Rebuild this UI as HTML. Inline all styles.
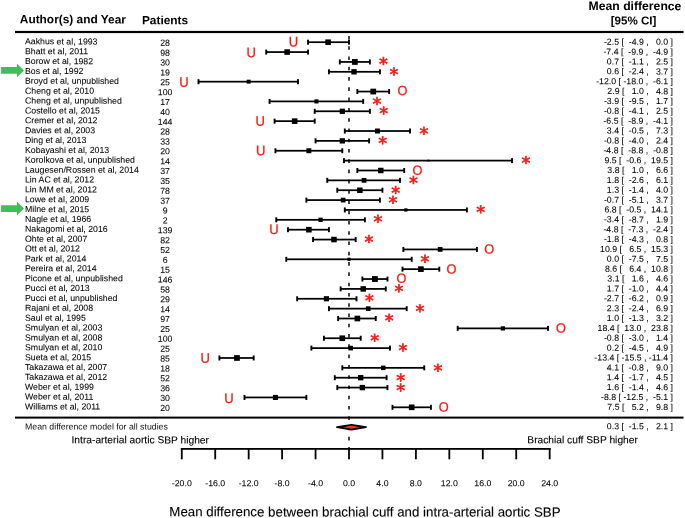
<!DOCTYPE html><html><head><meta charset="utf-8"><title>Forest plot</title><style>
html,body{margin:0;padding:0;background:#fff;width:685px;height:518px;overflow:hidden}
svg{display:block;font-family:"Liberation Sans",Arial,sans-serif}
text{white-space:pre;text-rendering:geometricPrecision}
.s{font-size:8.76px;fill:#000;stroke:#000;stroke-width:0.06px}
.h{font-size:11.9px;font-weight:bold;fill:#000}
.m{fill:#f41a12;stroke:#f41a12;stroke-width:0.30px;text-anchor:middle}
.ast{font-family:"DejaVu Sans",sans-serif;stroke-width:0.65px}
</style></head><body>
<svg width="685" height="518" viewBox="0 0 685 518">
<text transform="translate(19.8 23.3) skewY(0.05)" class="h">Author(s) and Year</text>
<text transform="translate(165 24.3) skewY(0.05)" class="h" text-anchor="middle">Patients</text>
<text transform="translate(635 10.1) skewY(0.05)" class="h" text-anchor="middle" style="font-size:12.2px">Mean difference</text>
<text transform="translate(633.5 24.5) skewY(0.05)" class="h" text-anchor="middle" style="font-size:11.6px">[95% CI]</text>
<rect x="15" y="30.9" width="668.5" height="2.2" fill="#000"/>
<rect x="15" y="416.6" width="668.5" height="2" fill="#000"/>
<line x1="349.00" y1="35.92" x2="349.00" y2="449" stroke="#000" stroke-width="1.45" stroke-dasharray="3.6 6.68"/>
<text transform="translate(25.00 44.35) skewY(0.05)" class="s">Aakhus et al, 1993</text>
<text transform="translate(165.10 45.80) skewY(0.05)" class="s" text-anchor="middle">28</text>
<text transform="translate(673.00 44.80) skewY(0.05)" class="s" text-anchor="end"> -2.5 [  -4.9 ,   0.0 ]</text>
<rect x="308.03" y="41.33" width="40.97" height="1.75"/>
<rect x="307.08" y="39.70" width="1.90" height="5.00"/>
<rect x="348.05" y="39.70" width="1.90" height="5.00"/>
<rect x="325.31" y="39.41" width="5.58" height="5.58"/>
<text class="m" transform="translate(293.43 41.60) scale(0.930 1) skewY(0.05)" y="4.97" style="font-size:14.00px">U</text>
<text transform="translate(25.00 54.22) skewY(0.05)" class="s">Bhatt et al, 2011</text>
<text transform="translate(165.10 55.67) skewY(0.05)" class="s" text-anchor="middle">98</text>
<text transform="translate(673.00 54.67) skewY(0.05)" class="s" text-anchor="end"> -7.4 [  -9.9 ,  -4.9 ]</text>
<rect x="266.23" y="51.19" width="41.81" height="1.75"/>
<rect x="265.28" y="49.57" width="1.90" height="5.00"/>
<rect x="307.08" y="49.57" width="1.90" height="5.00"/>
<rect x="284.35" y="49.29" width="5.56" height="5.56"/>
<text class="m" transform="translate(251.13 52.17) scale(0.930 1) skewY(0.05)" y="4.97" style="font-size:14.00px">U</text>
<text transform="translate(25.00 64.09) skewY(0.05)" class="s">Borow et al, 1982</text>
<text transform="translate(165.10 65.54) skewY(0.05)" class="s" text-anchor="middle">30</text>
<text transform="translate(673.00 64.54) skewY(0.05)" class="s" text-anchor="end">  0.7 [  -1.1 ,   2.5 ]</text>
<rect x="339.80" y="61.06" width="30.10" height="1.75"/>
<rect x="338.85" y="59.44" width="1.90" height="5.00"/>
<rect x="368.95" y="59.44" width="1.90" height="5.00"/>
<rect x="351.96" y="59.05" width="5.78" height="5.78"/>
<text class="m ast" transform="translate(383.50 60.94) scale(1.040 1) skewY(0.05)" y="8.71" style="font-size:17.00px">*</text>
<text transform="translate(25.00 73.95) skewY(0.05)" class="s">Bos et al, 1992</text>
<text transform="translate(165.10 75.40) skewY(0.05)" class="s" text-anchor="middle">19</text>
<text transform="translate(673.00 74.40) skewY(0.05)" class="s" text-anchor="end">  0.6 [  -2.4 ,   3.7 ]</text>
<rect x="328.93" y="70.93" width="51.00" height="1.75"/>
<rect x="327.98" y="69.30" width="1.90" height="5.00"/>
<rect x="378.99" y="69.30" width="1.90" height="5.00"/>
<rect x="351.34" y="69.13" width="5.35" height="5.35"/>
<text class="m ast" transform="translate(393.94 71.50) scale(1.040 1) skewY(0.05)" y="8.71" style="font-size:17.00px">*</text>
<text transform="translate(25.00 83.82) skewY(0.05)" class="s">Broyd et al, unpublished</text>
<text transform="translate(165.10 85.27) skewY(0.05)" class="s" text-anchor="middle">25</text>
<text transform="translate(673.00 84.27) skewY(0.05)" class="s" text-anchor="end">-12.0 [ -18.0 ,  -6.1 ]</text>
<rect x="198.50" y="80.80" width="99.50" height="1.75"/>
<rect x="197.55" y="79.17" width="1.90" height="5.00"/>
<rect x="297.05" y="79.17" width="1.90" height="5.00"/>
<rect x="246.70" y="79.70" width="3.94" height="3.94"/>
<text class="m" transform="translate(183.85 81.87) scale(0.930 1) skewY(0.05)" y="4.97" style="font-size:14.00px">U</text>
<text transform="translate(25.00 93.69) skewY(0.05)" class="s">Cheng et al, 2010</text>
<text transform="translate(165.10 95.14) skewY(0.05)" class="s" text-anchor="middle">100</text>
<text transform="translate(673.00 94.14) skewY(0.05)" class="s" text-anchor="end">  2.9 [   1.0 ,   4.8 ]</text>
<rect x="357.36" y="90.67" width="31.77" height="1.75"/>
<rect x="356.41" y="89.04" width="1.90" height="5.00"/>
<rect x="388.18" y="89.04" width="1.90" height="5.00"/>
<rect x="370.37" y="88.67" width="5.75" height="5.75"/>
<text class="m" transform="translate(402.53 90.54) scale(0.970 1) skewY(0.05)" y="4.55" style="font-size:13.20px">O</text>
<text transform="translate(25.00 103.56) skewY(0.05)" class="s">Cheng et al, unpublished</text>
<text transform="translate(165.10 105.01) skewY(0.05)" class="s" text-anchor="middle">17</text>
<text transform="translate(673.00 104.01) skewY(0.05)" class="s" text-anchor="end"> -3.9 [  -9.5 ,   1.7 ]</text>
<rect x="269.57" y="100.53" width="93.64" height="1.75"/>
<rect x="268.62" y="98.91" width="1.90" height="5.00"/>
<rect x="362.26" y="98.91" width="1.90" height="5.00"/>
<rect x="314.33" y="99.35" width="4.13" height="4.13"/>
<text class="m ast" transform="translate(377.01 100.91) scale(1.040 1) skewY(0.05)" y="8.71" style="font-size:17.00px">*</text>
<text transform="translate(25.00 113.43) skewY(0.05)" class="s">Costello et al, 2015</text>
<text transform="translate(165.10 114.88) skewY(0.05)" class="s" text-anchor="middle">40</text>
<text transform="translate(673.00 113.88) skewY(0.05)" class="s" text-anchor="end"> -0.8 [  -4.1 ,   2.5 ]</text>
<rect x="314.72" y="110.40" width="55.18" height="1.75"/>
<rect x="313.77" y="108.78" width="1.90" height="5.00"/>
<rect x="368.95" y="108.78" width="1.90" height="5.00"/>
<rect x="339.69" y="108.65" width="5.25" height="5.25"/>
<text class="m ast" transform="translate(383.60 110.58) scale(1.040 1) skewY(0.05)" y="8.71" style="font-size:17.00px">*</text>
<text transform="translate(25.00 123.29) skewY(0.05)" class="s">Cremer et al, 2012</text>
<text transform="translate(165.10 124.74) skewY(0.05)" class="s" text-anchor="middle">144</text>
<text transform="translate(673.00 123.74) skewY(0.05)" class="s" text-anchor="end"> -6.5 [  -8.9 ,  -4.1 ]</text>
<rect x="274.59" y="120.27" width="40.13" height="1.75"/>
<rect x="273.64" y="118.64" width="1.90" height="5.00"/>
<rect x="313.77" y="118.64" width="1.90" height="5.00"/>
<rect x="291.86" y="118.35" width="5.60" height="5.60"/>
<text class="m" transform="translate(260.19 120.79) scale(0.930 1) skewY(0.05)" y="4.97" style="font-size:14.00px">U</text>
<text transform="translate(25.00 133.16) skewY(0.05)" class="s">Davies et al, 2003</text>
<text transform="translate(165.10 134.61) skewY(0.05)" class="s" text-anchor="middle">28</text>
<text transform="translate(673.00 133.61) skewY(0.05)" class="s" text-anchor="end">  3.4 [  -0.5 ,   7.3 ]</text>
<rect x="344.82" y="130.14" width="65.22" height="1.75"/>
<rect x="343.87" y="128.51" width="1.90" height="5.00"/>
<rect x="409.09" y="128.51" width="1.90" height="5.00"/>
<rect x="374.94" y="128.52" width="4.98" height="4.98"/>
<text class="m ast" transform="translate(423.89 130.71) scale(1.040 1) skewY(0.05)" y="8.71" style="font-size:17.00px">*</text>
<text transform="translate(25.00 143.03) skewY(0.05)" class="s">Ding et al, 2013</text>
<text transform="translate(165.10 144.48) skewY(0.05)" class="s" text-anchor="middle">33</text>
<text transform="translate(673.00 143.48) skewY(0.05)" class="s" text-anchor="end"> -0.8 [  -4.0 ,   2.4 ]</text>
<rect x="315.56" y="140.00" width="53.51" height="1.75"/>
<rect x="314.61" y="138.38" width="1.90" height="5.00"/>
<rect x="368.12" y="138.38" width="1.90" height="5.00"/>
<rect x="339.67" y="138.23" width="5.29" height="5.29"/>
<text class="m ast" transform="translate(382.77 140.18) scale(1.040 1) skewY(0.05)" y="8.71" style="font-size:17.00px">*</text>
<text transform="translate(25.00 152.90) skewY(0.05)" class="s">Kobayashi et al, 2013</text>
<text transform="translate(165.10 154.35) skewY(0.05)" class="s" text-anchor="middle">20</text>
<text transform="translate(673.00 153.35) skewY(0.05)" class="s" text-anchor="end"> -4.8 [  -8.8 ,  -0.8 ]</text>
<rect x="275.42" y="149.87" width="66.89" height="1.75"/>
<rect x="274.47" y="148.25" width="1.90" height="5.00"/>
<rect x="341.36" y="148.25" width="1.90" height="5.00"/>
<rect x="306.40" y="148.28" width="4.93" height="4.93"/>
<text class="m" transform="translate(260.67 150.20) scale(0.930 1) skewY(0.05)" y="4.97" style="font-size:14.00px">U</text>
<text transform="translate(25.00 162.77) skewY(0.05)" class="s">Korolkova et al, unpublished</text>
<text transform="translate(165.10 164.22) skewY(0.05)" class="s" text-anchor="middle">14</text>
<text transform="translate(673.00 163.22) skewY(0.05)" class="s" text-anchor="end">  9.5 [  -0.6 ,  19.5 ]</text>
<rect x="343.98" y="159.74" width="168.06" height="1.75"/>
<rect x="343.03" y="158.12" width="1.90" height="5.00"/>
<rect x="511.09" y="158.12" width="1.90" height="5.00"/>
<rect x="427.45" y="159.64" width="1.95" height="1.95"/>
<text class="m ast" transform="translate(526.04 159.92) scale(1.040 1) skewY(0.05)" y="8.71" style="font-size:17.00px">*</text>
<text transform="translate(25.00 172.63) skewY(0.05)" class="s">Laugesen/Rossen et al, 2014</text>
<text transform="translate(165.10 174.08) skewY(0.05)" class="s" text-anchor="middle">37</text>
<text transform="translate(673.00 173.08) skewY(0.05)" class="s" text-anchor="end">  3.8 [   1.0 ,   6.6 ]</text>
<rect x="357.36" y="169.61" width="46.82" height="1.75"/>
<rect x="356.41" y="167.98" width="1.90" height="5.00"/>
<rect x="403.23" y="167.98" width="1.90" height="5.00"/>
<rect x="378.05" y="167.76" width="5.45" height="5.45"/>
<text class="m" transform="translate(417.58 170.28) scale(0.970 1) skewY(0.05)" y="4.55" style="font-size:13.20px">O</text>
<text transform="translate(25.00 182.50) skewY(0.05)" class="s">Lin AC et al, 2012</text>
<text transform="translate(165.10 183.95) skewY(0.05)" class="s" text-anchor="middle">35</text>
<text transform="translate(673.00 182.95) skewY(0.05)" class="s" text-anchor="end">  1.8 [  -2.6 ,   6.1 ]</text>
<rect x="327.26" y="179.48" width="72.74" height="1.75"/>
<rect x="326.31" y="177.85" width="1.90" height="5.00"/>
<rect x="399.05" y="177.85" width="1.90" height="5.00"/>
<rect x="361.67" y="177.97" width="4.77" height="4.77"/>
<text class="m ast" transform="translate(413.50 180.00) scale(1.040 1) skewY(0.05)" y="8.71" style="font-size:17.00px">*</text>
<text transform="translate(25.00 192.37) skewY(0.05)" class="s">Lin MM et al, 2012</text>
<text transform="translate(165.10 193.82) skewY(0.05)" class="s" text-anchor="middle">78</text>
<text transform="translate(673.00 192.82) skewY(0.05)" class="s" text-anchor="end">  1.3 [  -1.4 ,   4.0 ]</text>
<rect x="337.29" y="189.35" width="45.15" height="1.75"/>
<rect x="336.34" y="187.72" width="1.90" height="5.00"/>
<rect x="381.49" y="187.72" width="1.90" height="5.00"/>
<rect x="357.12" y="187.48" width="5.49" height="5.49"/>
<text class="m ast" transform="translate(395.64 190.12) scale(1.040 1) skewY(0.05)" y="8.71" style="font-size:17.00px">*</text>
<text transform="translate(25.00 202.24) skewY(0.05)" class="s">Lowe et al, 2009</text>
<text transform="translate(165.10 203.69) skewY(0.05)" class="s" text-anchor="middle">37</text>
<text transform="translate(673.00 202.69) skewY(0.05)" class="s" text-anchor="end"> -0.7 [  -5.1 ,   3.7 ]</text>
<rect x="306.36" y="199.21" width="73.58" height="1.75"/>
<rect x="305.41" y="197.59" width="1.90" height="5.00"/>
<rect x="378.99" y="197.59" width="1.90" height="5.00"/>
<rect x="340.78" y="197.72" width="4.74" height="4.74"/>
<text class="m ast" transform="translate(393.04 199.79) scale(1.040 1) skewY(0.05)" y="8.71" style="font-size:17.00px">*</text>
<text transform="translate(25.00 212.11) skewY(0.05)" class="s">Milne et al, 2015</text>
<text transform="translate(165.10 213.56) skewY(0.05)" class="s" text-anchor="middle">9</text>
<text transform="translate(673.00 212.56) skewY(0.05)" class="s" text-anchor="end">  6.8 [  -0.5 ,  14.1 ]</text>
<rect x="344.82" y="209.08" width="122.07" height="1.75"/>
<rect x="343.87" y="207.46" width="1.90" height="5.00"/>
<rect x="465.94" y="207.46" width="1.90" height="5.00"/>
<rect x="404.24" y="208.34" width="3.24" height="3.24"/>
<text class="m ast" transform="translate(480.69 209.40) scale(1.040 1) skewY(0.05)" y="8.71" style="font-size:17.00px">*</text>
<text transform="translate(25.00 221.97) skewY(0.05)" class="s">Nagle et al, 1966</text>
<text transform="translate(165.10 223.42) skewY(0.05)" class="s" text-anchor="middle">2</text>
<text transform="translate(673.00 222.42) skewY(0.05)" class="s" text-anchor="end"> -3.4 [  -8.7 ,   1.9 ]</text>
<rect x="276.26" y="218.95" width="88.63" height="1.75"/>
<rect x="275.31" y="217.32" width="1.90" height="5.00"/>
<rect x="363.94" y="217.32" width="1.90" height="5.00"/>
<rect x="318.43" y="217.68" width="4.28" height="4.28"/>
<text class="m ast" transform="translate(377.99 218.82) scale(1.040 1) skewY(0.05)" y="8.71" style="font-size:17.00px">*</text>
<text transform="translate(25.00 231.84) skewY(0.05)" class="s">Nakagomi et al, 2016</text>
<text transform="translate(165.10 233.29) skewY(0.05)" class="s" text-anchor="middle">139</text>
<text transform="translate(673.00 232.29) skewY(0.05)" class="s" text-anchor="end"> -4.8 [  -7.3 ,  -2.4 ]</text>
<rect x="287.96" y="228.82" width="40.97" height="1.75"/>
<rect x="287.01" y="227.19" width="1.90" height="5.00"/>
<rect x="327.98" y="227.19" width="1.90" height="5.00"/>
<rect x="306.08" y="226.90" width="5.58" height="5.58"/>
<text class="m" transform="translate(273.96 229.09) scale(0.930 1) skewY(0.05)" y="4.97" style="font-size:14.00px">U</text>
<text transform="translate(25.00 241.71) skewY(0.05)" class="s">Ohte et al, 2007</text>
<text transform="translate(165.10 243.16) skewY(0.05)" class="s" text-anchor="middle">82</text>
<text transform="translate(673.00 242.16) skewY(0.05)" class="s" text-anchor="end"> -1.8 [  -4.3 ,   0.8 ]</text>
<rect x="313.05" y="238.69" width="42.64" height="1.75"/>
<rect x="312.10" y="237.06" width="1.90" height="5.00"/>
<rect x="354.74" y="237.06" width="1.90" height="5.00"/>
<rect x="331.18" y="236.79" width="5.54" height="5.54"/>
<text class="m ast" transform="translate(368.99 239.00) scale(1.040 1) skewY(0.05)" y="8.71" style="font-size:17.00px">*</text>
<text transform="translate(25.00 251.58) skewY(0.05)" class="s">Ott et al, 2012</text>
<text transform="translate(165.10 253.03) skewY(0.05)" class="s" text-anchor="middle">52</text>
<text transform="translate(673.00 252.03) skewY(0.05)" class="s" text-anchor="end"> 10.9 [   6.5 ,  15.3 ]</text>
<rect x="403.35" y="248.55" width="73.58" height="1.75"/>
<rect x="402.40" y="246.93" width="1.90" height="5.00"/>
<rect x="475.97" y="246.93" width="1.90" height="5.00"/>
<rect x="437.76" y="247.06" width="4.74" height="4.74"/>
<text class="m" transform="translate(489.32 249.03) scale(0.970 1) skewY(0.05)" y="4.55" style="font-size:13.20px">O</text>
<text transform="translate(25.00 261.45) skewY(0.05)" class="s">Park et al, 2014</text>
<text transform="translate(165.10 262.90) skewY(0.05)" class="s" text-anchor="middle">6</text>
<text transform="translate(673.00 261.90) skewY(0.05)" class="s" text-anchor="end">  0.0 [  -7.5 ,   7.5 ]</text>
<rect x="286.29" y="258.42" width="125.41" height="1.75"/>
<rect x="285.34" y="256.80" width="1.90" height="5.00"/>
<rect x="410.76" y="256.80" width="1.90" height="5.00"/>
<rect x="347.43" y="257.73" width="3.14" height="3.14"/>
<text class="m ast" transform="translate(425.01 258.80) scale(1.040 1) skewY(0.05)" y="8.71" style="font-size:17.00px">*</text>
<text transform="translate(25.00 271.31) skewY(0.05)" class="s">Pereira et al, 2014</text>
<text transform="translate(165.10 272.76) skewY(0.05)" class="s" text-anchor="middle">15</text>
<text transform="translate(673.00 271.76) skewY(0.05)" class="s" text-anchor="end">  8.6 [   6.4 ,  10.8 ]</text>
<rect x="402.51" y="268.29" width="36.79" height="1.75"/>
<rect x="401.56" y="266.66" width="1.90" height="5.00"/>
<rect x="438.35" y="266.66" width="1.90" height="5.00"/>
<rect x="418.07" y="266.33" width="5.66" height="5.66"/>
<text class="m" transform="translate(451.40 268.96) scale(0.970 1) skewY(0.05)" y="4.55" style="font-size:13.20px">O</text>
<text transform="translate(25.00 281.18) skewY(0.05)" class="s">Picone et al, unpublished</text>
<text transform="translate(165.10 282.63) skewY(0.05)" class="s" text-anchor="middle">146</text>
<text transform="translate(673.00 281.63) skewY(0.05)" class="s" text-anchor="end">  3.1 [   1.6 ,   4.6 ]</text>
<rect x="362.38" y="278.16" width="25.08" height="1.75"/>
<rect x="361.43" y="276.53" width="1.90" height="5.00"/>
<rect x="386.51" y="276.53" width="1.90" height="5.00"/>
<rect x="371.99" y="276.11" width="5.85" height="5.85"/>
<text class="m" transform="translate(401.46 278.23) scale(0.970 1) skewY(0.05)" y="4.55" style="font-size:13.20px">O</text>
<text transform="translate(25.00 291.05) skewY(0.05)" class="s">Pucci et al, 2013</text>
<text transform="translate(165.10 292.50) skewY(0.05)" class="s" text-anchor="middle">58</text>
<text transform="translate(673.00 291.50) skewY(0.05)" class="s" text-anchor="end">  1.7 [  -1.0 ,   4.4 ]</text>
<rect x="340.64" y="288.03" width="45.15" height="1.75"/>
<rect x="339.69" y="286.40" width="1.90" height="5.00"/>
<rect x="384.84" y="286.40" width="1.90" height="5.00"/>
<rect x="360.47" y="286.16" width="5.49" height="5.49"/>
<text class="m ast" transform="translate(398.99 288.40) scale(1.040 1) skewY(0.05)" y="8.71" style="font-size:17.00px">*</text>
<text transform="translate(25.00 300.92) skewY(0.05)" class="s">Pucci et al, unpublished</text>
<text transform="translate(165.10 302.37) skewY(0.05)" class="s" text-anchor="middle">29</text>
<text transform="translate(673.00 301.37) skewY(0.05)" class="s" text-anchor="end"> -2.7 [  -6.2 ,   0.9 ]</text>
<rect x="297.16" y="297.89" width="59.36" height="1.75"/>
<rect x="296.21" y="296.27" width="1.90" height="5.00"/>
<rect x="355.57" y="296.27" width="1.90" height="5.00"/>
<rect x="323.85" y="296.20" width="5.14" height="5.14"/>
<text class="m ast" transform="translate(369.32 297.87) scale(1.040 1) skewY(0.05)" y="8.71" style="font-size:17.00px">*</text>
<text transform="translate(25.00 310.79) skewY(0.05)" class="s">Rajani et al, 2008</text>
<text transform="translate(165.10 312.24) skewY(0.05)" class="s" text-anchor="middle">14</text>
<text transform="translate(673.00 311.24) skewY(0.05)" class="s" text-anchor="end">  2.3 [  -2.4 ,   6.9 ]</text>
<rect x="328.93" y="307.76" width="77.76" height="1.75"/>
<rect x="327.98" y="306.14" width="1.90" height="5.00"/>
<rect x="405.74" y="306.14" width="1.90" height="5.00"/>
<rect x="365.92" y="306.33" width="4.62" height="4.62"/>
<text class="m ast" transform="translate(419.99 308.24) scale(1.040 1) skewY(0.05)" y="8.71" style="font-size:17.00px">*</text>
<text transform="translate(25.00 320.65) skewY(0.05)" class="s">Saul et al, 1995</text>
<text transform="translate(165.10 322.10) skewY(0.05)" class="s" text-anchor="middle">97</text>
<text transform="translate(673.00 321.10) skewY(0.05)" class="s" text-anchor="end">  1.0 [  -1.3 ,   3.2 ]</text>
<rect x="338.13" y="317.63" width="37.62" height="1.75"/>
<rect x="337.18" y="316.00" width="1.90" height="5.00"/>
<rect x="374.81" y="316.00" width="1.90" height="5.00"/>
<rect x="354.54" y="315.68" width="5.64" height="5.64"/>
<text class="m ast" transform="translate(389.06 317.70) scale(1.040 1) skewY(0.05)" y="8.71" style="font-size:17.00px">*</text>
<text transform="translate(25.00 330.52) skewY(0.05)" class="s">Smulyan et al, 2003</text>
<text transform="translate(165.10 331.97) skewY(0.05)" class="s" text-anchor="middle">25</text>
<text transform="translate(673.00 330.97) skewY(0.05)" class="s" text-anchor="end"> 18.4 [  13.0 ,  23.8 ]</text>
<rect x="457.69" y="327.50" width="90.30" height="1.75"/>
<rect x="456.74" y="325.87" width="1.90" height="5.00"/>
<rect x="547.04" y="325.87" width="1.90" height="5.00"/>
<rect x="500.73" y="326.26" width="4.23" height="4.23"/>
<text class="m" transform="translate(561.09 327.97) scale(0.970 1) skewY(0.05)" y="4.55" style="font-size:13.20px">O</text>
<text transform="translate(25.00 340.39) skewY(0.05)" class="s">Smulyan et al, 2008</text>
<text transform="translate(165.10 341.84) skewY(0.05)" class="s" text-anchor="middle">100</text>
<text transform="translate(673.00 340.84) skewY(0.05)" class="s" text-anchor="end"> -0.8 [  -3.0 ,   1.4 ]</text>
<rect x="323.92" y="337.37" width="36.79" height="1.75"/>
<rect x="322.97" y="335.74" width="1.90" height="5.00"/>
<rect x="359.76" y="335.74" width="1.90" height="5.00"/>
<rect x="339.48" y="335.41" width="5.66" height="5.66"/>
<text class="m ast" transform="translate(374.71 337.89) scale(1.040 1) skewY(0.05)" y="8.71" style="font-size:17.00px">*</text>
<text transform="translate(25.00 350.26) skewY(0.05)" class="s">Smulyan et al, 2010</text>
<text transform="translate(165.10 351.71) skewY(0.05)" class="s" text-anchor="middle">25</text>
<text transform="translate(673.00 350.71) skewY(0.05)" class="s" text-anchor="end">  0.2 [  -4.5 ,   4.9 ]</text>
<rect x="311.38" y="347.23" width="78.59" height="1.75"/>
<rect x="310.43" y="345.61" width="1.90" height="5.00"/>
<rect x="389.02" y="345.61" width="1.90" height="5.00"/>
<rect x="348.38" y="345.81" width="4.59" height="4.59"/>
<text class="m ast" transform="translate(402.97 347.51) scale(1.040 1) skewY(0.05)" y="8.71" style="font-size:17.00px">*</text>
<text transform="translate(25.00 360.13) skewY(0.05)" class="s">Sueta et al, 2015</text>
<text transform="translate(165.10 361.58) skewY(0.05)" class="s" text-anchor="middle">85</text>
<text transform="translate(673.00 360.58) skewY(0.05)" class="s" text-anchor="end">-13.4 [ -15.5 , -11.4 ]</text>
<rect x="219.40" y="357.10" width="34.28" height="1.75"/>
<rect x="218.45" y="355.48" width="1.90" height="5.00"/>
<rect x="252.73" y="355.48" width="1.90" height="5.00"/>
<rect x="234.11" y="355.12" width="5.71" height="5.71"/>
<text class="m" transform="translate(205.10 357.78) scale(0.930 1) skewY(0.05)" y="4.97" style="font-size:14.00px">U</text>
<text transform="translate(25.00 369.99) skewY(0.05)" class="s">Takazawa et al, 2007</text>
<text transform="translate(165.10 371.44) skewY(0.05)" class="s" text-anchor="middle">18</text>
<text transform="translate(673.00 370.44) skewY(0.05)" class="s" text-anchor="end">  4.1 [  -0.8 ,   9.0 ]</text>
<rect x="342.31" y="366.97" width="81.94" height="1.75"/>
<rect x="341.36" y="365.34" width="1.90" height="5.00"/>
<rect x="423.30" y="365.34" width="1.90" height="5.00"/>
<rect x="381.04" y="365.60" width="4.49" height="4.49"/>
<text class="m ast" transform="translate(437.95 367.74) scale(1.040 1) skewY(0.05)" y="8.71" style="font-size:17.00px">*</text>
<text transform="translate(25.00 379.86) skewY(0.05)" class="s">Takazawa et al, 2012</text>
<text transform="translate(165.10 381.31) skewY(0.05)" class="s" text-anchor="middle">52</text>
<text transform="translate(673.00 380.31) skewY(0.05)" class="s" text-anchor="end">  1.4 [  -1.7 ,   4.5 ]</text>
<rect x="334.79" y="376.84" width="51.84" height="1.75"/>
<rect x="333.84" y="375.21" width="1.90" height="5.00"/>
<rect x="385.67" y="375.21" width="1.90" height="5.00"/>
<rect x="358.04" y="375.05" width="5.33" height="5.33"/>
<text class="m ast" transform="translate(400.77 377.51) scale(1.040 1) skewY(0.05)" y="8.71" style="font-size:17.00px">*</text>
<text transform="translate(25.00 389.73) skewY(0.05)" class="s">Weber et al, 1999</text>
<text transform="translate(165.10 391.18) skewY(0.05)" class="s" text-anchor="middle">36</text>
<text transform="translate(673.00 390.18) skewY(0.05)" class="s" text-anchor="end">  1.6 [  -1.4 ,   4.6 ]</text>
<rect x="337.29" y="386.70" width="50.17" height="1.75"/>
<rect x="336.34" y="385.08" width="1.90" height="5.00"/>
<rect x="386.51" y="385.08" width="1.90" height="5.00"/>
<rect x="359.69" y="384.89" width="5.37" height="5.37"/>
<text class="m ast" transform="translate(400.71 387.58) scale(1.040 1) skewY(0.05)" y="8.71" style="font-size:17.00px">*</text>
<text transform="translate(25.00 399.60) skewY(0.05)" class="s">Weber et al, 2011</text>
<text transform="translate(165.10 401.05) skewY(0.05)" class="s" text-anchor="middle">30</text>
<text transform="translate(673.00 400.05) skewY(0.05)" class="s" text-anchor="end"> -8.8 [ -12.5 ,  -5.1 ]</text>
<rect x="244.49" y="396.57" width="61.87" height="1.75"/>
<rect x="243.54" y="394.95" width="1.90" height="5.00"/>
<rect x="305.41" y="394.95" width="1.90" height="5.00"/>
<rect x="272.89" y="394.91" width="5.07" height="5.07"/>
<text class="m" transform="translate(228.99 397.95) scale(0.930 1) skewY(0.05)" y="4.97" style="font-size:14.00px">U</text>
<text transform="translate(25.00 409.47) skewY(0.05)" class="s">Williams et al, 2011</text>
<text transform="translate(165.10 410.92) skewY(0.05)" class="s" text-anchor="middle">20</text>
<text transform="translate(673.00 409.92) skewY(0.05)" class="s" text-anchor="end">  7.5 [   5.2 ,   9.8 ]</text>
<rect x="392.48" y="406.44" width="38.46" height="1.75"/>
<rect x="391.53" y="404.82" width="1.90" height="5.00"/>
<rect x="429.99" y="404.82" width="1.90" height="5.00"/>
<rect x="408.89" y="404.50" width="5.63" height="5.63"/>
<text class="m" transform="translate(443.74 407.02) scale(0.970 1) skewY(0.05)" y="4.55" style="font-size:13.20px">O</text>
<polygon points="1.1,67.00 17,67.00 17,63.60 24,70.40 17,77.20 17,73.80 1.1,73.80" fill="#3fbf55"/>
<polygon points="1.1,205.16 17,205.16 17,201.76 24,208.56 17,215.36 17,211.96 1.1,211.96" fill="#3fbf55"/>
<text transform="translate(25 429.4) skewY(0.05)" class="s" style="fill:#111;stroke:none">Mean difference model for all studies</text>
<text transform="translate(673.00 429.3) skewY(0.05)" class="s" text-anchor="end">  0.3 [  -1.5 ,   2.1 ]</text>
<polygon points="336.96,427.20 351.51,424.85 366.06,427.20 351.51,429.55" fill="#000" stroke="#000" stroke-width="1.7" stroke-linejoin="round"/>
<polygon points="342.91,427.20 351.51,425.60 360.11,427.20 351.51,428.80" fill="#f0361e"/>
<rect x="180.88" y="448" width="369.68" height="1.8"/>
<rect x="180.88" y="448" width="1.8" height="11.3"/>
<text transform="translate(181.78 486.2) skewY(0.05)" class="s" text-anchor="middle">-20.0</text>
<rect x="214.32" y="448" width="1.8" height="11.3"/>
<text transform="translate(215.22 486.2) skewY(0.05)" class="s" text-anchor="middle">-16.0</text>
<rect x="247.77" y="448" width="1.8" height="11.3"/>
<text transform="translate(248.67 486.2) skewY(0.05)" class="s" text-anchor="middle">-12.0</text>
<rect x="281.21" y="448" width="1.8" height="11.3"/>
<text transform="translate(282.11 486.2) skewY(0.05)" class="s" text-anchor="middle">-8.0</text>
<rect x="314.66" y="448" width="1.8" height="11.3"/>
<text transform="translate(315.56 486.2) skewY(0.05)" class="s" text-anchor="middle">-4.0</text>
<rect x="348.10" y="448" width="1.8" height="11.3"/>
<text transform="translate(349.00 486.2) skewY(0.05)" class="s" text-anchor="middle">0.0</text>
<rect x="381.54" y="448" width="1.8" height="11.3"/>
<text transform="translate(382.44 486.2) skewY(0.05)" class="s" text-anchor="middle">4.0</text>
<rect x="414.99" y="448" width="1.8" height="11.3"/>
<text transform="translate(415.89 486.2) skewY(0.05)" class="s" text-anchor="middle">8.0</text>
<rect x="448.43" y="448" width="1.8" height="11.3"/>
<text transform="translate(449.33 486.2) skewY(0.05)" class="s" text-anchor="middle">12.0</text>
<rect x="481.88" y="448" width="1.8" height="11.3"/>
<text transform="translate(482.78 486.2) skewY(0.05)" class="s" text-anchor="middle">16.0</text>
<rect x="515.32" y="448" width="1.8" height="11.3"/>
<text transform="translate(516.22 486.2) skewY(0.05)" class="s" text-anchor="middle">20.0</text>
<rect x="548.76" y="448" width="1.8" height="11.3"/>
<text transform="translate(549.66 486.2) skewY(0.05)" class="s" text-anchor="middle">24.0</text>
<text transform="translate(71.5 443.3) skewY(0.05)" style="font-size:10.24px;fill:#000;stroke:#000;stroke-width:0.1px">Intra-arterial aortic SBP higher</text>
<text transform="translate(527.3 443.2) skewY(0.05)" style="font-size:10.24px;fill:#000;stroke:#000;stroke-width:0.1px">Brachial cuff SBP higher</text>
<text transform="translate(169.3 516.3) skewY(0.05)" style="font-size:13.3px;fill:#000;stroke:#000;stroke-width:0.1px">Mean difference between brachial cuff and intra-arterial aortic SBP</text>
</svg></body></html>
